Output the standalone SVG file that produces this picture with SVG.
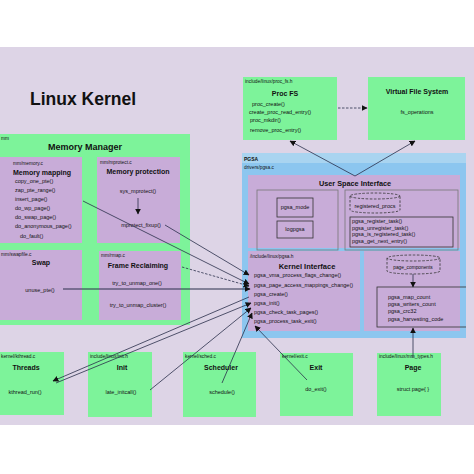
<svg xmlns="http://www.w3.org/2000/svg" width="474" height="474" viewBox="0 0 474 474">
<style>
text{font-family:"Liberation Sans",Arial,sans-serif;fill:#111}
.g{fill:#7df39a}
.p{fill:#c8acd8}
.tag{font-size:4.8px}
.h{font-size:7px;font-weight:bold}
.fn{font-size:5.5px}
.c{text-anchor:middle}
.ln{stroke:#2a2f4a;stroke-width:0.8;fill:none}
.bx{fill:none;stroke:#333;stroke-width:0.8}
.dash{stroke-dasharray:2.5,1.5}
</style>
<defs>
<marker id="ar" viewBox="0 0 10 10" refX="9" refY="5" markerWidth="6" markerHeight="6" markerUnits="userSpaceOnUse" orient="auto">
<path d="M0,0 L10,5 L0,10 z" fill="#111"/>
</marker>
</defs>
<rect x="0" y="0" width="474" height="474" fill="#fff"/>
<rect x="0" y="47" width="474" height="378" fill="#ddd4e6"/>
<text x="30" y="105" style="font-size:17.5px;font-weight:bold">Linux Kernel</text>

<g id="memory-manager">
<rect class="g" x="0" y="134" width="190" height="191"/>
<text class="tag" x="1" y="140">mm</text>
<text class="c" x="85" y="150" style="font-size:9px;font-weight:bold">Memory Manager</text>
</g>
<g id="memory-mapping">
<rect class="p" x="0" y="157" width="82" height="86"/>
<text class="tag" x="13" y="165">mm/memory.c</text>
<text class="h" x="13" y="175">Memory mapping</text>
<text class="fn" x="15" y="183">copy_one_pte()</text>
<text class="fn" x="15" y="192">zap_pte_range()</text>
<text class="fn" x="15" y="201">insert_page()</text>
<text class="fn" x="15" y="210">do_wp_page()</text>
<text class="fn" x="15" y="219">do_swap_page()</text>
<text class="fn" x="15" y="228">do_anonymous_page()</text>
<text class="fn" x="20" y="238">do_fault()</text>
</g>
<g id="memory-protection">
<rect class="p" x="97" y="157" width="83" height="86"/>
<text class="tag" x="100" y="164">mm/mprotect.c</text>
<text class="h c" x="138" y="174">Memory protection</text>
<text class="fn c" x="138" y="193">sys_mprotect()</text>
<text class="fn c" x="141" y="227">mprotect_fixup()</text>
</g>
<g id="swap">
<rect class="p" x="0" y="250" width="82" height="70"/>
<text class="tag" x="1" y="256">mm/swapfile.c</text>
<text class="h c" x="41" y="265">Swap</text>
<text class="fn c" x="40" y="292">unuse_pte()</text>
</g>
<g id="frame-reclaiming">
<rect class="p" x="99" y="251" width="82" height="69"/>
<text class="tag" x="101" y="257">mm/rmap.c</text>
<text class="h c" x="138" y="268">Frame Reclaiming</text>
<text class="fn c" x="137" y="285">try_to_unmap_one()</text>
<text class="fn c" x="138" y="307">try_to_unmap_cluster()</text>
</g>

<g id="proc-fs">
<rect class="g" x="243" y="77" width="94" height="63"/>
<text class="tag" x="245" y="83">include/linux/proc_fs.h</text>
<text class="h c" x="285" y="96">Proc FS</text>
<text class="fn" x="252" y="106">proc_create()</text>
<text class="fn" x="249" y="114">create_proc_read_entry()</text>
<text class="fn" x="250" y="122">proc_mkdir()</text>
<text class="fn" x="250" y="132">remove_proc_entry()</text>
</g>
<g id="vfs">
<rect class="g" x="368" y="77" width="97" height="63"/>
<text class="h c" x="417" y="94">Virtual File System</text>
<text class="fn c" x="417" y="114">fs_operations</text>
</g>

<g id="pgsa">
<rect x="242" y="153" width="224" height="185" fill="#8cc6ef"/>
<rect x="242" y="153" width="224" height="10" fill="#a9d4f0"/>
<text x="244" y="161" style="font-size:5px;font-weight:bold">PGSA</text>
<text class="tag" x="244" y="169">drivers/pgsa.c</text>
</g>
<g id="user-space-interface">
<rect class="p" x="248" y="175" width="212" height="73"/>
<text class="c" x="355" y="186" style="font-size:7.3px;font-weight:bold">User Space Interface</text>
<rect class="bx" x="257" y="190" width="81" height="60" style="stroke:#777"/>
<rect class="bx" x="345" y="190" width="113" height="60" style="stroke:#777"/>
<rect class="bx" x="277" y="198" width="36" height="19"/>
<text class="fn c" x="295" y="209">pgsa_mode</text>
<rect class="bx" x="277" y="221" width="36" height="17"/>
<text class="fn c" x="295" y="231">logpgsa</text>
<g id="registered-procs">
<path class="bx dash" d="M350,196 v14 a25,3 0 0 0 50,0 v-14"/>
<ellipse class="bx dash" cx="375" cy="196" rx="25" ry="3"/>
<text class="fn c" x="375" y="208">registered_procs</text>
</g>
<rect class="bx" x="350" y="217" width="103" height="30"/>
<text class="fn" x="352" y="223">pgsa_register_task()</text>
<text class="fn" x="352" y="229.5">pgsa_unregister_task()</text>
<text class="fn" x="352" y="236">pgsa_is_registered_task()</text>
<text class="fn" x="352" y="242.5">pgsa_get_next_entry()</text>
</g>
<g id="kernel-interface">
<rect class="p" x="248" y="251" width="112" height="80"/>
<text class="tag" x="250" y="258">/include/linux/pgsa.h</text>
<text class="c" x="307" y="269" style="font-size:7.5px;font-weight:bold">Kernel Interface</text>
<text class="fn" x="254" y="277">pgsa_vma_process_flags_change()</text>
<text class="fn" x="254" y="287">pgsa_page_access_mappings_change()</text>
<text class="fn" x="254" y="296">pgsa_create()</text>
<text class="fn" x="254" y="305">pgsa_init()</text>
<text class="fn" x="254" y="314">pgsa_check_task_pages()</text>
<text class="fn" x="254" y="323">pgsa_process_task_exit()</text>
</g>
<g id="page-components">
<rect class="p" x="364" y="251" width="96" height="80"/>
<path class="bx dash" d="M387,258 v13 a26.5,3 0 0 0 53,0 v-13"/>
<ellipse class="bx dash" cx="413.5" cy="258" rx="26.5" ry="3"/>
<text class="c" x="413" y="269" style="font-size:4.8px">page_components</text>
<rect class="bx" x="377" y="287" width="90" height="40"/>
<text class="fn" x="388" y="299">pgsa_map_count</text>
<text class="fn" x="388" y="306">pgsa_writers_count</text>
<text class="fn" x="388" y="313">pgsa_crc32</text>
<text class="fn" x="388" y="321">pgsa_harvesting_code</text>
</g>
<rect x="466" y="153" width="8" height="185" fill="#ddd4e6"/>

<g id="threads">
<rect class="g" x="0" y="352" width="64" height="63"/>
<text class="tag" x="1" y="358">kernel/kthread.c</text>
<text class="h c" x="26" y="370">Threads</text>
<text class="fn c" x="25" y="394">kthread_run()</text>
</g>
<g id="init">
<rect class="g" x="88" y="352" width="64" height="65"/>
<text class="tag" x="90" y="358">include/linux/init.h</text>
<text class="h c" x="122" y="370">Init</text>
<text class="fn c" x="121" y="394">late_initcall()</text>
</g>
<g id="scheduler">
<rect class="g" x="183" y="352" width="73" height="65"/>
<text class="tag" x="185" y="358">kernel/sched.c</text>
<text class="h c" x="221" y="370">Scheduler</text>
<text class="fn c" x="222" y="394">schedule()</text>
</g>
<g id="exit">
<rect class="g" x="280" y="353" width="73" height="63"/>
<text class="tag" x="282" y="358">kernel/exit.c</text>
<text class="h c" x="316" y="370">Exit</text>
<text class="fn c" x="316" y="391">do_exit()</text>
</g>
<g id="page">
<rect class="g" x="377" y="353" width="64" height="63"/>
<text class="tag" x="379" y="358">include/linux/mm_types.h</text>
<text class="h c" x="413" y="370">Page</text>
<text class="fn c" x="413" y="391">struct page{ }</text>
</g>

<g id="connectors">
<path class="ln" d="M83,201 L249,284" marker-end="url(#ar)"/>
<path class="ln" d="M165,225 L249,275" marker-end="url(#ar)"/>
<path class="ln dash" d="M182,267 L249,286" marker-end="url(#ar)"/>
<path class="ln" d="M63,289 L250,289" marker-end="url(#ar)" style="stroke-width:1.1"/>
<path class="ln" d="M249,297 L53,381" marker-end="url(#ar)"/>
<path class="ln" d="M56,383 L251,303" marker-end="url(#ar)"/>
<path class="ln" d="M150,390 L251,308" marker-end="url(#ar)"/>
<path class="ln" d="M222,383 L252,313" marker-end="url(#ar)"/>
<path class="ln" d="M307,380 L255,326" marker-end="url(#ar)"/>
<path class="ln" d="M413,358 L413,328" marker-end="url(#ar)"/>
<path class="ln" d="M355,176 L290,141" marker-end="url(#ar)"/>
<path class="ln" d="M355,176 L415,141" marker-end="url(#ar)"/>
<path class="ln dash" d="M338,108 L367,108" marker-end="url(#ar)"/>
<path class="ln" d="M138,198 L138,214" marker-end="url(#ar)"/>
<path class="ln" d="M413,274 L413,287" marker-end="url(#ar)"/>
</g>
</svg>
